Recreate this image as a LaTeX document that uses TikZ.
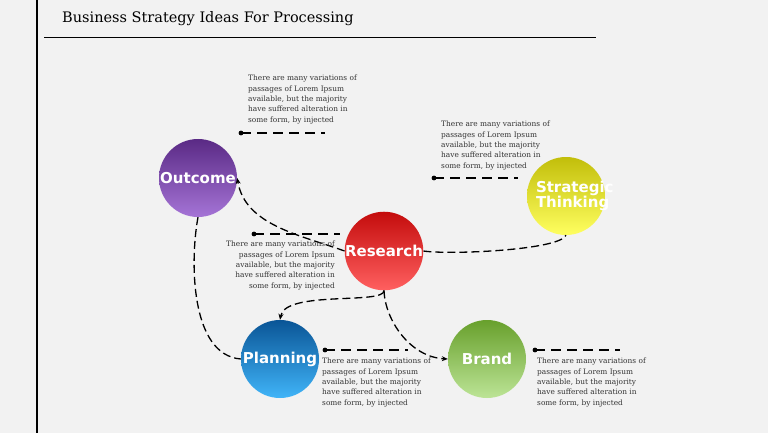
\documentclass[tikz,border=0pt]{standalone}
\usepackage{fontspec}
\setmainfont{DejaVu Serif}
\newfontfamily\bubfont{DejaVu Sans}
\usetikzlibrary{arrows.meta}
\definecolor{pT}{HTML}{5A2A85}\definecolor{pB}{HTML}{A574D6}
\definecolor{rT}{HTML}{C40C0C}\definecolor{rB}{HTML}{FF6060}
\definecolor{yT}{HTML}{C2BE0A}\definecolor{yB}{HTML}{FFFF60}
\definecolor{bT}{HTML}{0A5596}\definecolor{bB}{HTML}{40B4F8}
\definecolor{gT}{HTML}{68A02C}\definecolor{gB}{HTML}{BCE496}
\newcommand{\loremtxt}{There are many variations of\\passages of Lorem Ipsum\\available, but the majority\\have suffered alteration in\\some form, by injected}
\begin{document}
\begin{tikzpicture}[x=1pt,y=-1pt,
 bub/.style={circle,minimum size=78pt,inner sep=0pt,text=white,font=\bubfont\bfseries\fontsize{15}{16}\selectfont},
 note/.style={font=\fontsize{7.4}{10.3}\selectfont,text=black!80,inner sep=0pt,align=left},
 lead/.style={line width=1.2pt,dash pattern=on 10pt off 6pt},
 conn/.style={line width=1.3pt,dash pattern=on 8pt off 4pt},
 tip/.style={-{Stealth[length=6pt,width=5pt]}}]
\fill[black!5] (0,0) rectangle (768,433);
\useasboundingbox (0,0) rectangle (768,433);
\draw[line width=2.5pt] (37,0) -- (37,433);
\draw[line width=0.6pt] (44,37) -- (596,37);
\node[anchor=west,font=\fontsize{14.5}{16}\selectfont,inner sep=0pt] (title) at (62,19) {Business Strategy Ideas For Processing};

\node[bub,top color=pT,bottom color=pB] (out) at (198,178) {Outcome};
\node[bub,top color=rT,bottom color=rB] (res) at (384,251) {Research};
\node[bub,top color=yT,bottom color=yB] (str) at (566,196) {\parbox{60pt}{\centering Strategic\\[-1pt]Thinking}};
\node[bub,top color=bT,bottom color=bB] (pla) at (280,359) {Planning};
\node[bub,top color=gT,bottom color=gB] (bra) at (487,359) {Brand};

\draw[conn,tip] (res.west) .. controls (300,235) and (245,225) .. (out.east);
\draw[conn] (res.east) .. controls (450,255) and (560,250) .. (str.south);
\draw[conn] (out.south) .. controls (190,260) and (190,355) .. (pla.west);
\draw[conn,tip] (res.south) .. controls (385,305) and (285,290) .. (pla.north);
\draw[conn,tip] (res.south) .. controls (385,320) and (410,357) .. (bra.west);

\node[note,anchor=north west] (n1) at (248,75) {\loremtxt};
\coordinate (d1) at (241,133); \coordinate (e1) at (325,133);
\fill (d1) circle (2.4pt); \draw[lead] (d1) -- (e1);

\node[note,anchor=north west] (n2) at (441,121) {\loremtxt};
\coordinate (d2) at (434,178); \coordinate (e2) at (518,178);
\fill (d2) circle (2.4pt); \draw[lead] (d2) -- (e2);

\node[note,anchor=north east,align=right] (n3) at (335,241) {\loremtxt};
\coordinate (d3) at (254,234); \coordinate (e3) at (340,234);
\fill (d3) circle (2.4pt); \draw[lead] (d3) -- (e3);

\node[note,anchor=north west] (n4) at (322,358) {\loremtxt};
\coordinate (d4) at (325,350); \coordinate (e4) at (408,350);
\fill (d4) circle (2.4pt); \draw[lead] (d4) -- (e4);

\node[note,anchor=north west] (n5) at (537,358) {\loremtxt};
\coordinate (d5) at (535,350); \coordinate (e5) at (620,350);
\fill (d5) circle (2.4pt); \draw[lead] (d5) -- (e5);
\end{tikzpicture}
\end{document}
